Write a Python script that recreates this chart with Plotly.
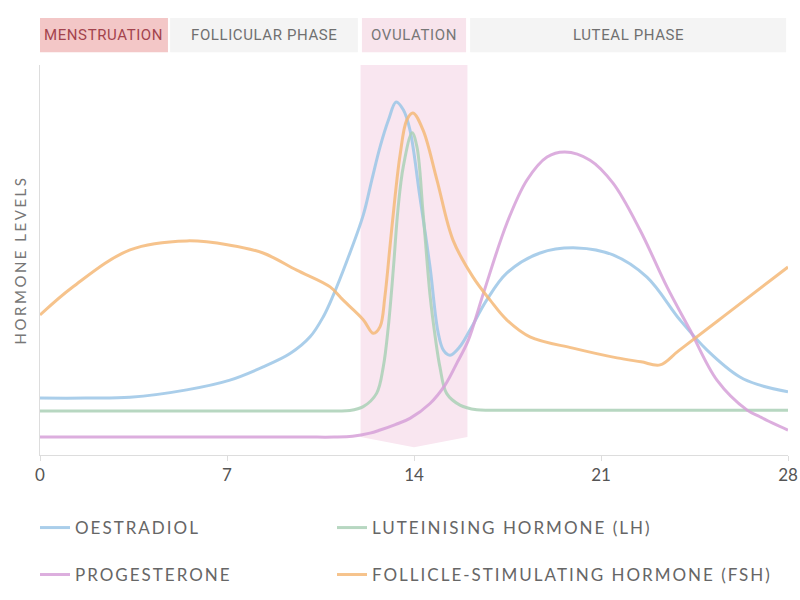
import plotly.graph_objects as go

# ---------------- data ----------------
days_oestradiol = [0, 1.7, 3.37, 5.49, 7.11, 8.36, 9.36, 10.11, 10.6, 10.98, 11.48, 12.1, 12.42,
                   12.73, 13.05, 13.33, 13.6, 13.85, 14.22, 14.6, 14.9, 15.1, 15.35, 15.72, 16.1,
                   16.72, 17.48, 18.72, 20.1, 21.45, 22.72, 23.96, 24.97, 26.2, 26.95, 28]
oestradiol = [14.6, 14.6, 14.8, 16.7, 19.2, 22.6, 26.0, 30.3, 35.4, 41.0, 49.6, 61.5, 70.5,
              79.0, 86.0, 90.5, 88.5, 83.3, 66.2, 48.2, 31.5, 26.9, 25.6, 27.8, 32.1,
              39.7, 46.7, 51.8, 53.1, 51.3, 45.6, 34.6, 26.9, 20.0, 17.9, 16.2]

days_lh = [0, 2, 4, 6, 8, 10, 11, 11.6, 12.1, 12.6, 12.85, 13.04, 13.23, 13.4, 13.6, 13.93,
           14.11, 14.34, 14.6, 14.8, 14.97, 15.22, 15.72, 16.35, 17, 18, 20, 22, 24, 26, 28]
lh = [11.3, 11.3, 11.3, 11.3, 11.3, 11.3, 11.3, 11.4, 12.4, 15.8, 22.6, 33.0, 48.0, 63.0,
      74.0, 82.6, 79.0, 62.1, 41.0, 30.0, 22.6, 15.8, 12.8, 11.6, 11.5, 11.5, 11.5, 11.5,
      11.5, 11.5, 11.5]

days_progesterone = [0, 2, 4, 6, 8, 10, 11, 11.7, 12.35, 12.73, 13.3, 13.85, 14.6, 15.16, 15.6,
                     16.03, 16.6, 17.48, 18.23, 18.98, 19.65, 20.59, 21.45, 22.46, 23.47,
                     24.33, 25.34, 26.47, 26.95, 27.45, 28]
progesterone = [4.6, 4.6, 4.6, 4.6, 4.6, 4.6, 4.6, 4.8, 5.6, 6.4, 7.8, 9.4, 13.2, 17.9, 23.5,
                29.4, 41.5, 59.5, 70.5, 76.4, 77.7, 75.6, 69.7, 57.7, 43.1,
                32.1, 19.2, 11.5, 9.8, 8.1, 6.4]

days_fsh = [0, 1.25, 3.37, 5.5, 7.11, 8.35, 9.61, 10.86, 11.35, 12.1, 12.48, 12.73, 12.91, 13.1,
            13.29, 13.48, 13.73, 13.96, 14.34, 14.86, 15.46, 16.21, 16.85, 17.48, 18.34, 19.95,
            21.6, 22.5, 23.21, 23.9, 25.6, 28]
fsh = [35.9, 43.2, 52.6, 54.9, 53.8, 51.8, 47.4, 43.1, 39.7, 34.7, 31.2, 32.9, 40.6, 53.4,
       66.2, 77.0, 85.9, 87.7, 83.3, 70.5, 55.1, 45.6, 39.7, 34.6, 30.3, 27.4,
       24.9, 23.9, 23.1, 26.7, 35.6, 48.2]

series_names = ["OESTRADIOL", "LUTEINISING HORMONE (LH)", "PROGESTERONE",
                "FOLLICLE-STIMULATING HORMONE (FSH)"]
series_colors = ["rgba(155,198,230,0.85)", "rgba(170,208,182,0.85)",
                 "rgba(214,160,216,0.85)", "rgba(245,185,120,0.85)"]
series_legend = ["legend", "legend2", "legend3", "legend4"]

phase_names = ["MENSTRUATION", "FOLLICULAR PHASE", "OVULATION", "LUTEAL PHASE"]
phase_start = [0, 4.87, 12.05, 16.1]
phase_end = [4.79, 11.9, 15.95, 27.93]
phase_fill = ["#f3c7c7", "#f4f4f4", "#f8e4ec", "#f4f4f4"]
phase_text = ["#a3434d", "#707070", "#777777", "#707070"]

ovulation_start, ovulation_end, ovulation_mid = 12, 16, 14
x_ticks = [0, 7, 14, 21, 28]


def spaced(text, px):
    return f'<span style="letter-spacing:{px}px">{text}</span>'


# ---------------- figure ----------------
fig = go.Figure()

all_x = [days_oestradiol, days_lh, days_progesterone, days_fsh]
all_y = [oestradiol, lh, progesterone, fsh]
for name, xs, ys, col, lg in zip(series_names, all_x, all_y, series_colors, series_legend):
    fig.add_trace(go.Scatter(
        x=xs, y=ys, name=spaced(name, 2), mode="lines", legend=lg,
        line=dict(color=col, width=3, shape="spline", smoothing=1.0),
        hoverinfo="skip",
    ))

# ovulation band with pointed bottom
fig.add_shape(
    type="path", xref="x", yref="y", layer="below",
    path=(f"M {ovulation_start},100 L {ovulation_end},100 L {ovulation_end},4.6 "
          f"L {ovulation_mid},2.0 L {ovulation_start},4.6 Z"),
    fillcolor="#f9e6f0", line=dict(width=0),
)

# phase bars above the plot
for name, x0, x1, fc, tc in zip(phase_names, phase_start, phase_end, phase_fill, phase_text):
    fig.add_shape(type="rect", xref="x", yref="paper", x0=x0, x1=x1, y0=1.033, y1=1.1205,
                  fillcolor=fc, line=dict(width=0), layer="below")
    fig.add_annotation(x=(x0 + x1) / 2, y=1.077, xref="x", yref="paper",
                       text=spaced(name, 0.6), showarrow=False,
                       xanchor="center", yanchor="middle",
                       font=dict(family="Roboto", size=15, color=tc))

legend_style = dict(orientation="h", xref="container", yref="container",
                    xanchor="left", yanchor="middle", bgcolor="rgba(0,0,0,0)",
                    font=dict(family="Lato", size=17, color="#666"))
legend_pos = {"legend": (0.04375, 0.12), "legend2": (0.415, 0.12),
              "legend3": (0.04375, 0.0417), "legend4": (0.415, 0.0417)}

fig.update_layout(
    width=800, height=600,
    margin=dict(l=40, r=12, t=65, b=145),
    plot_bgcolor="white", paper_bgcolor="white",
    font=dict(family="Lato", color="#666"),
    xaxis=dict(range=[0, 28], tickvals=x_ticks, ticktext=[str(t) for t in x_ticks],
               automargin=False,
               showgrid=False, zeroline=False, showline=True, linecolor="#dddddd",
               linewidth=1, ticks="outside", ticklen=5, tickcolor="#dddddd",
               tickfont=dict(family="Lato", size=17, color="#555")),
    yaxis=dict(range=[0, 100], showgrid=False, zeroline=False, showline=True,
               linecolor="#dddddd", linewidth=1, showticklabels=False, ticks="",
               title=dict(text=spaced("HORMONE LEVELS", 2.5), standoff=8,
                          font=dict(family="Lato", size=15, color="#777"))),
    showlegend=True,
)
for key, (lx, ly) in legend_pos.items():
    fig.update_layout({key: dict(legend_style, x=lx, y=ly)})

fig.write_html("out.html")
